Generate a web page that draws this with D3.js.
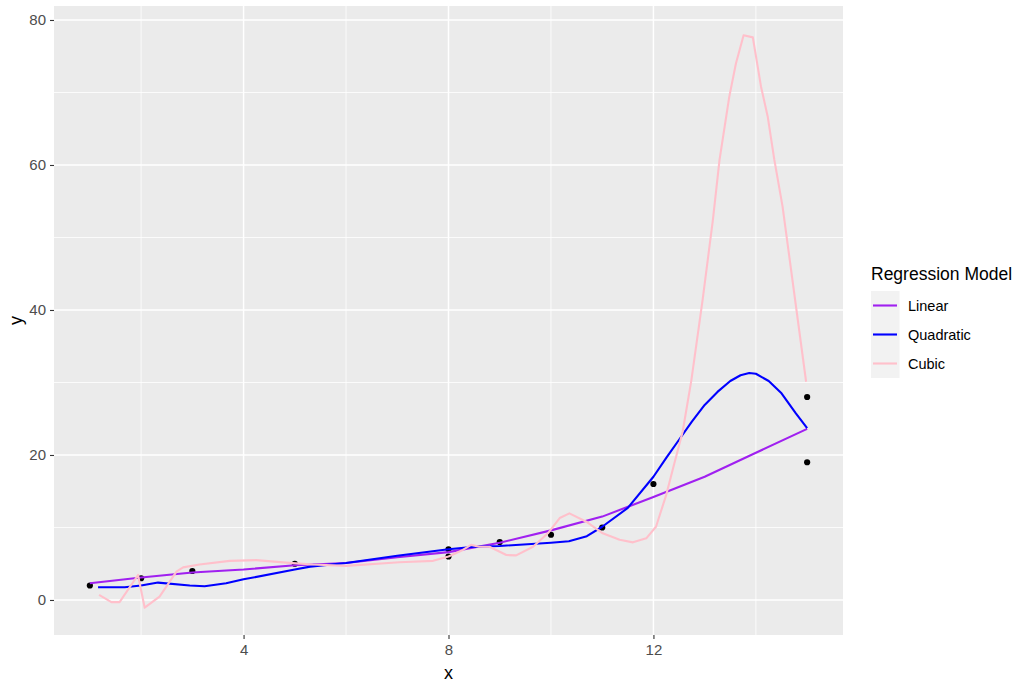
<!DOCTYPE html>
<html>
<head>
<meta charset="utf-8">
<script src="https://cdn.jsdelivr.net/npm/d3@7"></script>
<style>
html,body{margin:0;padding:0;background:#fff;}
svg{display:block;font-family:"Liberation Sans",Arial,sans-serif;}
</style>
</head>
<body>
<svg id="chart" width="1024" height="686"></svg>
<script>
// ---- data ----
const pointX = [1, 2, 3, 5, 8, 8, 9, 10, 11, 12, 15, 15];
const pointY = [2, 3, 4, 5, 6, 7, 8, 9, 10, 16, 19, 28];

const linearX = [1, 2, 3, 4, 5, 6, 7, 8, 9, 10, 11, 12, 13, 14, 15];
const linearY = [2.3, 3.1, 3.8, 4.2, 4.8, 5.1, 5.9, 6.6, 7.9, 9.6, 11.5, 14.2, 17.0, 20.3, 23.6];

const quadX = [1.16, 1.68, 2.0, 2.33, 2.95, 3.24, 3.66, 4.0, 5.0, 5.3, 6.0, 7.0, 8.0, 8.5, 9.0, 10.0, 10.35, 10.7, 11.0, 11.5, 12.0, 12.25, 12.5, 12.75, 13.0, 13.25, 13.5, 13.7, 13.87, 14.0, 14.25, 14.5, 14.78, 15.0];
const quadY = [1.75, 1.75, 2.0, 2.4, 2.0, 1.9, 2.3, 2.85, 4.2, 4.6, 5.1, 6.1, 7.0, 7.35, 7.45, 7.9, 8.1, 8.8, 10.1, 12.7, 17.0, 19.6, 22.1, 24.6, 26.9, 28.7, 30.2, 31.0, 31.3, 31.2, 30.2, 28.5, 25.75, 23.7];

const cubicX = [1.18, 1.42, 1.58, 1.94, 2.07, 2.36, 2.69, 2.82, 3.14, 3.73, 4.25, 4.83, 5.35, 6.0, 7.04, 7.7, 8.0, 8.28, 8.44, 8.6, 8.8, 9.13, 9.32, 9.65, 9.94, 10.17, 10.36, 10.69, 11.01, 11.34, 11.6, 11.86, 12.05, 12.25, 12.41, 12.57, 12.74, 12.96, 13.16, 13.29, 13.39, 13.48, 13.61, 13.76, 13.94, 14.10, 14.23, 14.36, 14.52, 14.98];
const cubicY = [0.7, -0.3, -0.3, 3.45, -1.06, 0.46, 3.9, 4.5, 4.9, 5.4, 5.5, 5.15, 4.9, 4.7, 5.2, 5.4, 6.0, 6.9, 7.6, 7.35, 7.35, 6.2, 6.15, 7.35, 9.2, 11.3, 11.95, 10.8, 9.2, 8.3, 7.95, 8.5, 10.1, 14.5, 18.9, 23.2, 30.3, 41.4, 52.4, 60.7, 65.3, 69.4, 74.0, 77.9, 77.6, 70.8, 66.7, 60.7, 54.3, 30.1];

const seriesNames = ["Linear", "Quadratic", "Cubic"];
const seriesColors = ["#A020F0", "#0000FF", "#FFC0CB"];
const xTicks = [4, 8, 12];
const yTicks = [0, 20, 40, 60, 80];
const xMinor = [2, 6, 10, 14];
const yMinor = [10, 30, 50, 70];

// ---- layout ----
const svg = d3.select("#chart");
const panel = {left: 54, right: 843, top: 6, bottom: 635};
const x = d3.scaleLinear().domain([0.3, 15.7]).range([panel.left, panel.right]);
const y = d3.scaleLinear().domain([-4.83, 81.93]).range([panel.bottom, panel.top]);

svg.append("rect").attr("x", panel.left).attr("y", panel.top)
  .attr("width", panel.right - panel.left).attr("height", panel.bottom - panel.top)
  .attr("fill", "#EBEBEB");

const grid = svg.append("g");
xMinor.forEach(v => grid.append("line").attr("x1", x(v)).attr("x2", x(v)).attr("y1", panel.top).attr("y2", panel.bottom).attr("stroke", "#fff").attr("stroke-width", 0.8));
yMinor.forEach(v => grid.append("line").attr("y1", y(v)).attr("y2", y(v)).attr("x1", panel.left).attr("x2", panel.right).attr("stroke", "#fff").attr("stroke-width", 0.8));
xTicks.forEach(v => grid.append("line").attr("x1", x(v)).attr("x2", x(v)).attr("y1", panel.top).attr("y2", panel.bottom).attr("stroke", "#fff").attr("stroke-width", 1.5));
yTicks.forEach(v => grid.append("line").attr("y1", y(v)).attr("y2", y(v)).attr("x1", panel.left).attr("x2", panel.right).attr("stroke", "#fff").attr("stroke-width", 1.5));

// axes
const xAxis = d3.axisBottom(x).tickValues(xTicks).tickSize(4).tickPadding(5).tickFormat(d3.format("d"));
const yAxis = d3.axisLeft(y).tickValues(yTicks).tickSize(4).tickPadding(4).tickFormat(d3.format("d"));
const gx = svg.append("g").attr("transform", `translate(0,${panel.bottom})`).call(xAxis);
const gy = svg.append("g").attr("transform", `translate(${panel.left},0)`).call(yAxis);
[gx, gy].forEach(g => {
  g.select(".domain").remove();
  g.selectAll(".tick line").attr("stroke", "#333333").attr("stroke-width", 1.1);
  g.selectAll(".tick text").attr("fill", "#4D4D4D").style("font-size", "15px").style("font-family", "Liberation Sans, Arial, sans-serif");
});

svg.append("text").attr("x", (panel.left + panel.right) / 2).attr("y", 679)
  .attr("text-anchor", "middle").style("font-size", "18px").attr("fill", "#000").text("x");
svg.append("text").attr("transform", `translate(22,${(panel.top + panel.bottom) / 2}) rotate(-90)`)
  .attr("text-anchor", "middle").style("font-size", "18px").attr("fill", "#000").text("y");

// points (drawn first, lines on top)
const pts = pointX.map((v, i) => ({x: v, y: pointY[i]}));
svg.append("g").selectAll("circle").data(pts).join("circle")
  .attr("cx", d => x(d.x)).attr("cy", d => y(d.y)).attr("r", 3.1).attr("fill", "#000");

// lines
const line = d3.line().x(d => x(d.x)).y(d => y(d.y));
const series = [
  linearX.map((v, i) => ({x: v, y: linearY[i]})),
  quadX.map((v, i) => ({x: v, y: quadY[i]})),
  cubicX.map((v, i) => ({x: v, y: cubicY[i]}))
];
series.forEach((s, i) => {
  svg.append("path").datum(s).attr("d", line).attr("fill", "none")
    .attr("stroke", seriesColors[i]).attr("stroke-width", 2.1)
    .attr("stroke-linejoin", "round").attr("stroke-linecap", "butt");
});

// legend
const lg = svg.append("g");
lg.append("text").attr("x", 871).attr("y", 280).style("font-size", "17.5px").attr("fill", "#000").text("Regression Model");
const keyH = 29;
seriesNames.forEach((name, i) => {
  const ky = 291 + i * keyH;
  lg.append("rect").attr("x", 871).attr("y", ky).attr("width", 28.5).attr("height", keyH).attr("fill", "#F2F2F2");
  lg.append("line").attr("x1", 873).attr("x2", 897).attr("y1", ky + keyH / 2).attr("y2", ky + keyH / 2)
    .attr("stroke", seriesColors[i]).attr("stroke-width", 2.1);
  lg.append("text").attr("x", 908).attr("y", ky + keyH / 2).attr("dy", "0.35em")
    .style("font-size", "14.5px").attr("fill", "#000").text(name);
});
</script>
</body>
</html>
